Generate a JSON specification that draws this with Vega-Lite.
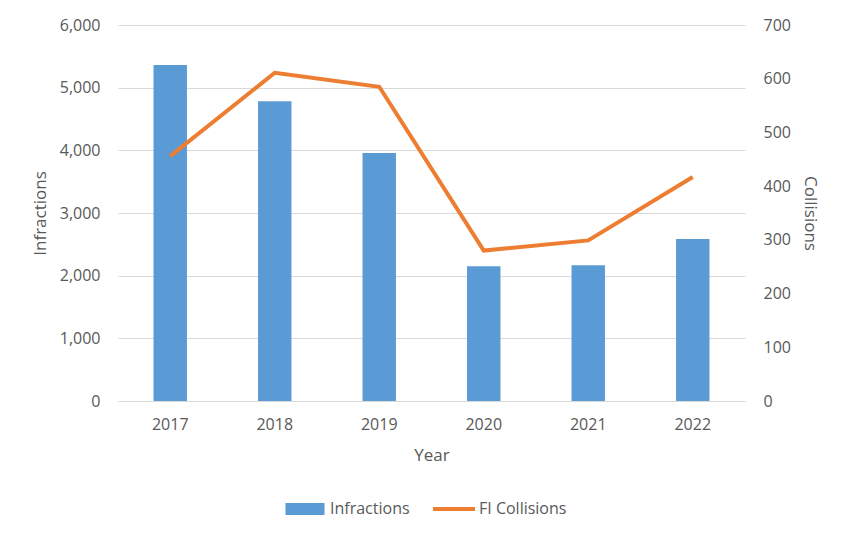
{
  "$schema": "https://vega.github.io/schema/vega-lite/v6.json",
  "width": 627,
  "height": 376,
  "autosize": {"type": "none"},
  "padding": {"left": 118, "top": 25, "right": 104, "bottom": 141},
  "background": "white",
  "data": {
    "values": [
      {"Year": "2017", "Infractions": 5360, "Collisions": 456},
      {"Year": "2018", "Infractions": 4785, "Collisions": 611},
      {"Year": "2019", "Infractions": 3958, "Collisions": 585},
      {"Year": "2020", "Infractions": 2150, "Collisions": 280},
      {"Year": "2021", "Infractions": 2166, "Collisions": 299},
      {"Year": "2022", "Infractions": 2587, "Collisions": 417}
    ]
  },
  "config": {
    "font": "Open Sans",
    "view": {"stroke": null},
    "axis": {
      "labelFont": "Open Sans",
      "titleFont": "Open Sans",
      "labelColor": "#595959",
      "titleColor": "#595959",
      "labelFontSize": 16,
      "titleFontSize": 17,
      "titleFontWeight": "normal",
      "ticks": false,
      "gridColor": "#D9D9D9",
      "gridWidth": 1,
      "gridOpacity": 1
    },
    "legend": {
      "layout": {"bottom": {"anchor": "middle"}}
    }
  },
  "encoding": {
    "x": {
      "field": "Year",
      "type": "ordinal",
      "scale": {"paddingInner": 0.68, "paddingOuter": 0.34},
      "axis": {
        "title": "Year",
        "labelAngle": 0,
        "labelPadding": 15,
        "titlePadding": 15,
        "domain": true,
        "domainColor": "#D9D9D9",
        "grid": false
      }
    }
  },
  "layer": [
    {
      "mark": {"type": "bar"},
      "encoding": {
        "y": {
          "field": "Infractions",
          "type": "quantitative",
          "scale": {"domain": [0, 6000], "nice": false},
          "axis": {
            "title": "Infractions",
            "values": [0, 1000, 2000, 3000, 4000, 5000, 6000],
            "format": ",d",
            "domain": false,
            "grid": true,
            "labelPadding": 18,
            "titlePadding": 10
          }
        },
        "color": {
          "datum": "Infractions",
          "type": "nominal",
          "scale": {"domain": ["Infractions", "FI Collisions"], "range": ["#5B9BD5", "#ED7D31"]},
          "legend": {
            "title": null,
            "orient": "bottom",
            "direction": "horizontal",
            "offset": 38,
            "labelFont": "Open Sans",
            "labelColor": "#595959",
            "labelFontSize": 16,
            "labelOffset": 17,
            "columnPadding": 15,
            "symbolType": "stroke",
            "symbolSize": 1764,
            "symbolStrokeWidth": 4,
            "encode": {
              "symbols": {
                "update": {
                  "shape": {"signal": "datum.value === 'Infractions' ? 'M-0.93,-0.29H0.93V0.29H-0.93Z' : 'stroke'"},
                  "fill": {"signal": "datum.value === 'Infractions' ? '#5B9BD5' : 'transparent'"},
                  "stroke": {"signal": "datum.value === 'Infractions' ? 'transparent' : '#ED7D31'"},
                  "strokeWidth": {"signal": "datum.value === 'Infractions' ? 0 : 4"},
                  "opacity": {"value": 1}
                }
              }
            }
          }
        }
      }
    },
    {
      "mark": {"type": "line", "strokeWidth": 4},
      "encoding": {
        "y": {
          "field": "Collisions",
          "type": "quantitative",
          "scale": {"domain": [0, 700], "nice": false},
          "axis": {
            "orient": "right",
            "title": "Collisions",
            "values": [0, 100, 200, 300, 400, 500, 600, 700],
            "domain": false,
            "grid": false,
            "labelPadding": 18,
            "titlePadding": 10
          }
        },
        "color": {"datum": "FI Collisions", "type": "nominal"}
      }
    }
  ],
  "resolve": {"scale": {"y": "independent"}}
}
